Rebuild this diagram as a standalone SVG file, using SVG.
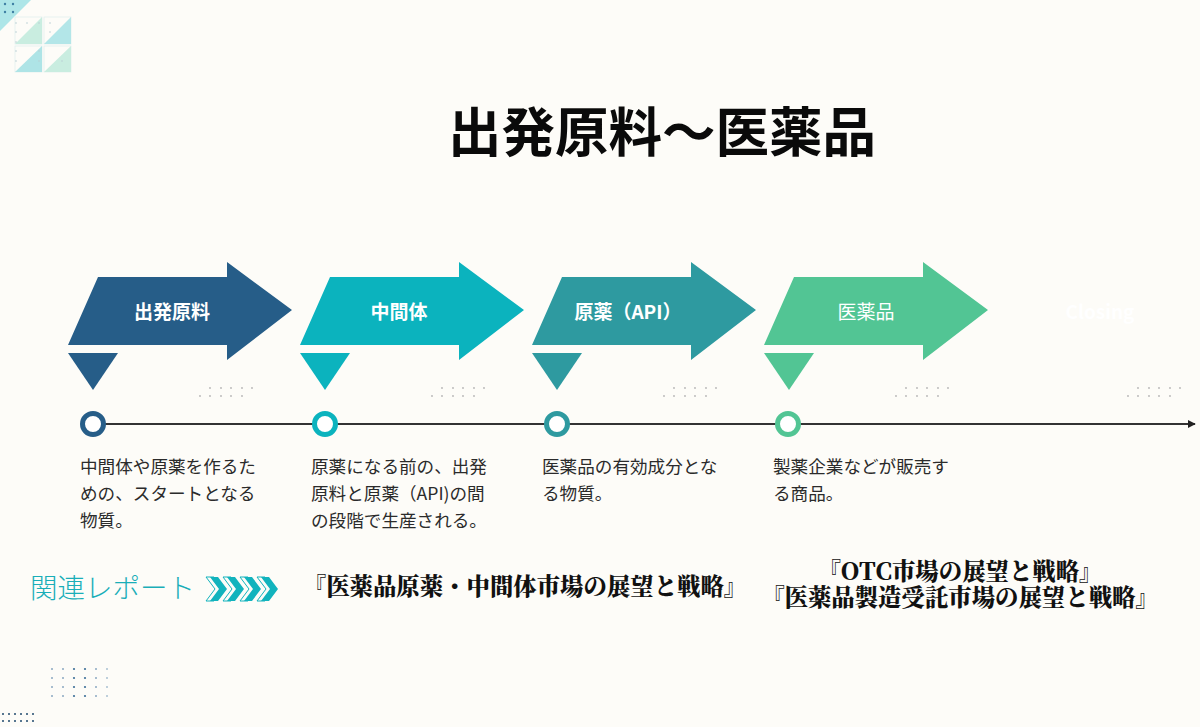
<svg xmlns="http://www.w3.org/2000/svg" width="1200" height="727" viewBox="0 0 1200 727">
<style>
.lbl{font-family:"Noto Sans CJK JP","Noto Sans",sans-serif;font-size:19px;fill:#fff;text-anchor:middle;dominant-baseline:central}
.b{font-weight:700}
.desc{font-family:"Noto Sans CJK JP","Noto Sans",sans-serif;font-size:17.6px;fill:#2b2b2b}
.rep{font-family:"Noto Serif CJK JP","Noto Sans CJK JP",serif;font-size:23.4px;font-weight:900;fill:#111;text-anchor:middle}
.ring{fill:#fff;stroke-width:5}
.dot{fill:#b5b5b5}
</style>
<defs>
<polygon id="arw" points="98,277 227,277 227,262 292,310 227,360 227,345 68,345"/>
<polygon id="tri" points="68,353 118,353 93,390"/>
<g id="dots">
<circle cx="210" cy="388" r="0.9"/><circle cx="221" cy="388" r="0.9"/><circle cx="231" cy="388" r="0.9"/><circle cx="242" cy="388" r="0.9"/><circle cx="252" cy="388" r="0.9"/>
<circle cx="200" cy="396" r="0.9"/><circle cx="210" cy="396" r="0.9"/><circle cx="221" cy="396" r="0.9"/><circle cx="231" cy="396" r="0.9"/><circle cx="242" cy="396" r="0.9"/>
</g>
<marker id="ah" viewBox="0 0 10 10" refX="9" refY="5" markerWidth="4" markerHeight="4" orient="auto"><path d="M0,0 L10,5 L0,10 Z" fill="#222"/></marker>
<polygon id="chev" points="0,0 8,0 17,12 8,24 0,24 9,12"/>
</defs>
<rect width="1200" height="727" fill="#fdfcf8"/>

<g id="decor-top">
<polygon points="0,0 31,0 0,31" fill="#aee6e8"/>
<g fill="#3f7fa3"><circle cx="5" cy="4" r="1.2"/><circle cx="13" cy="4" r="1.2"/><circle cx="5" cy="12" r="1.2"/><circle cx="13" cy="12" r="1.2"/></g>
<g stroke="#e2efee" stroke-width="0.8" fill="none"><rect x="15" y="17" width="27" height="27"/><rect x="44" y="17" width="27" height="27"/><rect x="15" y="46" width="27" height="26"/><rect x="44" y="46" width="27" height="26"/></g>
<polygon points="15,44 42,17 42,44" fill="#c9ede0"/>
<polygon points="44,44 71,17 71,44" fill="#b3e6e8"/>
<polygon points="15,72 42,46 42,72" fill="#aee4e6"/>
<polygon points="44,72 71,46 71,72" fill="#c9ede0"/>
<g fill="#b8cfd3"><circle cx="16" cy="23" r="0.8"/><circle cx="27" cy="23" r="0.8"/><circle cx="39" cy="23" r="0.8"/><circle cx="50" cy="23" r="0.8"/><circle cx="16" cy="32" r="0.8"/><circle cx="16" cy="42" r="0.8"/><circle cx="50" cy="32" r="0.8"/><circle cx="16" cy="51" r="0.8"/><circle cx="16" cy="61" r="0.8"/><circle cx="39" cy="51" r="0.8"/><circle cx="39" cy="61" r="0.8"/><circle cx="62" cy="61" r="0.8"/></g>
</g>

<g id="decor-bottom">
<g fill="#8aa8c2">
<circle cx="52" cy="669" r="1"/><circle cx="63" cy="669" r="1"/><circle cx="74" cy="669" r="1.1" fill="#3d6f98"/><circle cx="85" cy="669" r="1.1" fill="#3d6f98"/><circle cx="96" cy="669" r="1"/><circle cx="107" cy="669" r="1" fill="#a9c0d2"/>
<circle cx="52" cy="678" r="1"/><circle cx="63" cy="678" r="1"/><circle cx="74" cy="678" r="1.1" fill="#3d6f98"/><circle cx="85" cy="678" r="1.1" fill="#3d6f98"/><circle cx="96" cy="678" r="1"/><circle cx="107" cy="678" r="1" fill="#a9c0d2"/>
<circle cx="52" cy="687" r="1"/><circle cx="63" cy="687" r="1"/><circle cx="74" cy="687" r="1.1" fill="#3d6f98"/><circle cx="85" cy="687" r="1.1" fill="#3d6f98"/><circle cx="96" cy="687" r="1"/><circle cx="107" cy="687" r="1" fill="#a9c0d2"/>
<circle cx="52" cy="696" r="1"/><circle cx="63" cy="696" r="1"/><circle cx="74" cy="696" r="1.1" fill="#3d6f98"/><circle cx="85" cy="696" r="1.1" fill="#3d6f98"/><circle cx="96" cy="696" r="1"/><circle cx="107" cy="696" r="1" fill="#a9c0d2"/>
</g>
<g fill="#1f4a6e"><circle cx="3" cy="714" r="1"/><circle cx="9" cy="714" r="1"/><circle cx="15" cy="714" r="1"/><circle cx="21" cy="714" r="1"/><circle cx="27" cy="714" r="1"/><circle cx="33" cy="714" r="1"/><circle cx="3" cy="721" r="1"/><circle cx="9" cy="721" r="1"/><circle cx="15" cy="721" r="1"/><circle cx="21" cy="721" r="1"/><circle cx="27" cy="721" r="1"/><circle cx="33" cy="721" r="1"/></g>
</g>

<text x="662" y="152" font-family="'Noto Sans CJK JP','Noto Sans',sans-serif" font-size="53.5" font-weight="700" fill="#0a0a0a" text-anchor="middle">出発原料〜医薬品</text>

<g id="connectors">
<line x1="93" y1="424" x2="1195" y2="424" stroke="#333" stroke-width="2" marker-end="url(#ah)"/>
</g>

<g id="node-1">
<use href="#arw" fill="#265d88"/><use href="#tri" fill="#265d88"/>
<use href="#dots" class="dot"/>
<circle cx="93" cy="424" r="10.5" class="ring" stroke="#265d88"/>
<text x="172" y="310" class="lbl b">出発原料</text>
<text class="desc"><tspan x="80" y="473">中間体や原薬を作るた</tspan><tspan x="80" y="500">めの、スタートとなる</tspan><tspan x="80" y="527">物質。</tspan></text>
</g>

<g id="node-2">
<g transform="translate(232,0)"><use href="#arw" fill="#0bb3be"/><use href="#tri" fill="#0bb3be"/><use href="#dots" class="dot"/></g>
<circle cx="325" cy="424" r="10.5" class="ring" stroke="#0bb3be"/>
<text x="399" y="310" class="lbl b">中間体</text>
<text class="desc"><tspan x="311" y="473">原薬になる前の、出発</tspan><tspan x="311" y="500">原料と原薬（API)の間</tspan><tspan x="311" y="527">の段階で生産される。</tspan></text>
</g>

<g id="node-3">
<g transform="translate(464,0)"><use href="#arw" fill="#2e9aa0"/><use href="#tri" fill="#2e9aa0"/><use href="#dots" class="dot"/></g>
<circle cx="557" cy="424" r="10.5" class="ring" stroke="#2e9aa0"/>
<text x="628" y="310" class="lbl b">原薬（API）</text>
<text class="desc"><tspan x="542" y="473">医薬品の有効成分とな</tspan><tspan x="542" y="500">る物質。</tspan></text>
</g>

<g id="node-4">
<g transform="translate(696,0)"><use href="#arw" fill="#52c594"/><use href="#tri" fill="#52c594"/><use href="#dots" class="dot"/></g>
<circle cx="788" cy="424" r="10.5" class="ring" stroke="#52c594"/>
<text x="866" y="310" class="lbl">医薬品</text>
<text class="desc"><tspan x="773" y="473">製薬企業などが販売す</tspan><tspan x="773" y="500">る商品。</tspan></text>
</g>

<g id="node-5">
<g transform="translate(928,0)"><use href="#dots" class="dot"/></g>
<text x="1100" y="310" class="lbl b" font-size="18" fill="#ffffff">Closing</text>
</g>

<g id="related">
<text x="30" y="598" font-family="'Noto Sans CJK JP','Noto Sans',sans-serif" font-size="27.5" font-weight="300" fill="#1aaeb8">関連レポート</text>
<g fill="#12b3bd">
<use href="#chev" x="210" y="577"/><use href="#chev" x="227" y="577"/><use href="#chev" x="244" y="577"/><use href="#chev" x="261" y="577"/>
</g>
<g fill="none" stroke="#12b3bd" stroke-width="1">
<use href="#chev" x="206" y="577"/><use href="#chev" x="223" y="577"/><use href="#chev" x="240" y="577"/><use href="#chev" x="257" y="577"/>
</g>
<text x="525" y="595" class="rep">『医薬品原薬・中間体市場の展望と戦略』</text>
<text class="rep"><tspan x="960" y="580">『OTC市場の展望と戦略』</tspan><tspan x="960" y="606">『医薬品製造受託市場の展望と戦略』</tspan></text>
</g>
</svg>
